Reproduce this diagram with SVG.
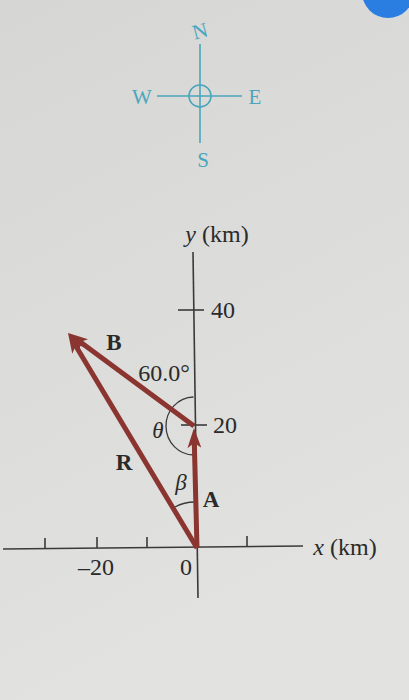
<svg xmlns="http://www.w3.org/2000/svg" width="409" height="700" viewBox="0 0 409 700">
<defs>
<linearGradient id="bg" x1="0" y1="0" x2="0.3" y2="1">
<stop offset="0" stop-color="#d6d6d4"/>
<stop offset="0.5" stop-color="#dcdcda"/>
<stop offset="1" stop-color="#e2e2e0"/>
</linearGradient>
<marker id="ah" viewBox="0 0 20 14" refX="6" refY="7" markerWidth="20" markerHeight="14" markerUnits="userSpaceOnUse" orient="auto">
<path d="M0,0 L20,7 L0,14 L5,7 z" fill="#8a3530"/>
</marker>
</defs>
<style>
.compass{stroke:#4aa6bd;stroke-width:1.6;fill:none}
.ct{font-family:"Liberation Serif",serif;font-size:21px;fill:#4aa6bd}
.axis{stroke:#3a3a3a;stroke-width:1.6;fill:none}
.t{font-family:"Liberation Serif",serif;font-size:24px;fill:#2a2a2a}
.tb{font-family:"Liberation Serif",serif;font-size:23px;font-weight:bold;fill:#2a2a2a}
.ti{font-family:"Liberation Serif",serif;font-size:23px;font-style:italic;fill:#2a2a2a}
.it{font-style:italic}
.vec{stroke:#8a3530;stroke-width:5;fill:none;marker-end:url(#ah)}
.arc{stroke:#3a3a3a;stroke-width:1.3;fill:none}
</style>
<rect width="409" height="700" fill="url(#bg)"/>
<circle cx="388" cy="-8" r="26" fill="#2a7de1"/>
<g id="compass">
<line class="compass" x1="200" y1="44" x2="200" y2="143"/>
<line class="compass" x1="157" y1="96" x2="242" y2="96"/>
<circle class="compass" cx="200" cy="96" r="11"/>
<text class="ct" x="200" y="38" text-anchor="middle" transform="rotate(-15 200 31)">N</text>
<text class="ct" x="142" y="104" text-anchor="middle">W</text>
<text class="ct" x="255" y="104" text-anchor="middle">E</text>
<text class="ct" x="203" y="167" text-anchor="middle">S</text>
</g>
<g id="axes">
<line class="axis" x1="193" y1="252" x2="198" y2="598"/>
<line class="axis" x1="3" y1="549" x2="303" y2="546"/>
<line class="axis" x1="45" y1="538" x2="45" y2="549"/>
<line class="axis" x1="97" y1="537" x2="97" y2="548"/>
<line class="axis" x1="147" y1="537" x2="147" y2="548"/>
<line class="axis" x1="247" y1="536" x2="247" y2="547"/>
<line class="axis" x1="178" y1="310" x2="204" y2="310"/>
<line class="axis" x1="181" y1="425" x2="207" y2="425"/>
<text class="t" x="217" y="242" text-anchor="middle"><tspan class="it">y</tspan> (km)</text>
<text class="t" x="345" y="555" text-anchor="middle"><tspan class="it">x</tspan> (km)</text>
<text class="t" x="223" y="318" text-anchor="middle">40</text>
<text class="t" x="225" y="433" text-anchor="middle">20</text>
<text class="t" x="96" y="575" text-anchor="middle">–20</text>
<text class="t" x="186" y="575" text-anchor="middle">0</text>
</g>
<g id="angles">
<path class="arc" d="M193.5,397 A28,29 0 0 0 194.5,455"/>
<path class="arc" d="M175,507 Q184,502 195,502"/>
<text class="t" x="164" y="381" text-anchor="middle">60.0°</text>
<text class="ti" x="158" y="438" text-anchor="middle">θ</text>
<text class="ti" x="181" y="490" text-anchor="middle">β</text>
</g>
<g id="connectors">
<line id="vecA" class="vec" x1="197" y1="548" x2="194.3" y2="442"/>
<line id="vecB" class="vec" x1="194" y1="426" x2="79.3" y2="341.3"/>
<line id="vecR" class="vec" x1="197" y1="548" x2="75.2" y2="345"/>
</g>
<g id="labels">
<text class="tb" x="114" y="350" text-anchor="middle">B</text>
<text class="tb" x="124" y="470" text-anchor="middle">R</text>
<text class="tb" x="211" y="507" text-anchor="middle">A</text>
</g>
</svg>
